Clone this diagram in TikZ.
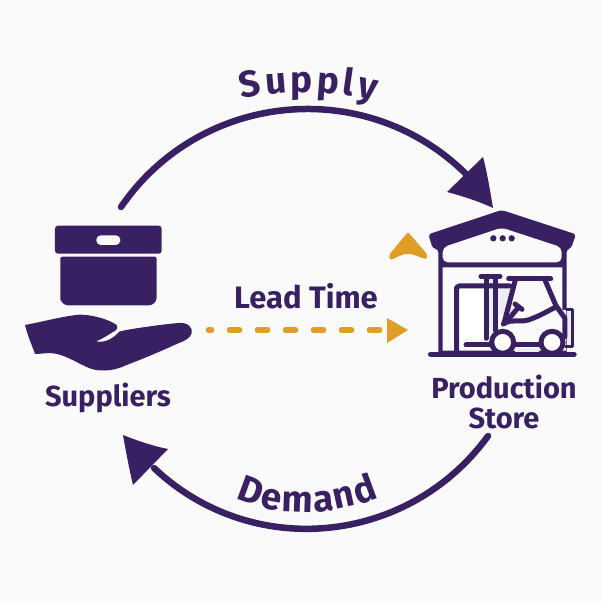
\documentclass[tikz,border=0pt]{standalone}
\usepackage{fontspec}
\setmainfont{Fira Sans}
\usetikzlibrary{decorations.text}
\definecolor{pur}{HTML}{382063}
\definecolor{org}{HTML}{E09E27}
\definecolor{bgc}{HTML}{FAFAFB}
\definecolor{lite}{HTML}{ECEEF6}
\tikzset{
  flow/.style={draw=pur,line width=6.5pt,line cap=round},
  label/.style={text=pur,font=\bfseries\fontsize{29}{30}\selectfont,align=center,inner sep=0pt},
  zoomA/.style={shift={(400,190)},x=0.3333pt,y=-0.3333pt},
  zoomB/.style={shift={(10,210)},x=0.3333pt,y=-0.3333pt},
  dk/.style={draw=pur,line width=5pt,line cap=round,line join=round},
}
\begin{document}
\begin{tikzpicture}[x=1pt,y=-1pt]
\useasboundingbox (0,0) rectangle (601,601);
\fill[bgc] (0,0) rectangle (601,601);
% named ends
\coordinate (supA) at (121,207);
\coordinate (supB) at (467,175);
\coordinate (demA) at (488,436);
\coordinate (demB) at (154,468);
\coordinate (leadA) at (208.5,330);
\coordinate (leadB) at (388,330);
% supply
\draw[flow] (supA) .. controls (200.9,90.7) and (367.2,75.2) .. (supB);
\fill[pur] (493,208) .. controls (490,190) and (487,172) .. (483,157) -- (447,192) .. controls (462,196) and (478,201) .. cycle;
% demand
\draw[flow] (demA) .. controls (408.4,545.2) and (252.3,560.9) .. (demB);
\fill[pur] (123,435) .. controls (138,441) and (153,446) .. (168,449) -- (133,485) .. controls (129,468) and (126,452) .. cycle;
% lead time
\draw[org,line width=5.5pt,line cap=round,dash pattern=on 10pt off 18pt,dash phase=7pt] (leadA) -- (leadB);
\fill[org] (408,330) -- (387,318) -- (387,343) -- cycle;
% orange roof mark
\fill[org,rounded corners=1.5pt] (408,232) -- (427,254) -- (427,259) .. controls (420,258) and (414,254) .. (408,254) .. controls (402,254) and (396,258) .. (390,260) -- (389,255) -- cycle;
% box and hand
\begin{scope}[zoomB]
\fill[pur,rounded corners=3pt] (135,47) rectangle (455,131);
\fill[bgc,rounded corners=4.5pt] (259,76) rectangle (331,105);
\fill[pur,rounded corners=2pt] (151,140) -- (440,140) -- (440,250) [rounded corners=8pt] -- (440,286) -- (151,286) -- (151,250) [rounded corners=2pt] -- cycle;
\fill[pur] (45,345) .. controls (100,335) and (160,318) .. (210,314) .. controls (250,314) and (300,330) .. (320,345) .. controls (325,355) and (320,362) .. (305,368) .. controls (295,375) and (280,385) .. (258,394) .. controls (285,400) and (310,385) .. (328,365) .. controls (340,360) and (440,345) .. (505,339) .. controls (535,336) and (550,355) .. (545,370) .. controls (540,385) and (525,392) .. (505,400) .. controls (450,425) and (390,450) .. (350,465) .. controls (320,480) and (280,487) .. (245,477) .. controls (210,465) and (170,435) .. (130,430) .. controls (110,428) and (90,432) .. (75,432) .. controls (70,415) and (55,385) .. (45,345) -- cycle;
\end{scope}
% warehouse
\begin{scope}[zoomA]
\fill[pur,rounded corners=3pt] (85,133) -- (305,60) -- (528,133) -- (513,175) -- (500,178) -- (500,495) -- (115,495) -- (115,178) -- (98,175) -- cycle;
\fill[bgc,rounded corners=5pt] (128,172) -- (305,113) -- (485,172) -- (485,217) -- (128,217) -- cycle;
\fill[bgc] (128,232) -- (487,232) -- (487,360) -- (498,360) -- (498,482) -- (128,482) -- cycle;
\fill[pur] (280,145) circle[radius=9.5] (308,145) circle[radius=9.5] (335,145) circle[radius=9.5];
\draw[dk,line width=5.5pt] (92,493) -- (522,493);
% stacked load
\fill[lite] (278,288) rectangle (335,375);
\fill[lite] (265,265) rectangle (280,440);
\fill[white] (178,295) rectangle (250,470);
\fill[lite] (345,475) rectangle (418,486);
\fill[lite] (500,365) rectangle (512,465);
\draw[dk] (170,487) -- (170,292) -- (178,288) -- (330,288);
\draw[dk] (258,262) -- (258,445);
\draw[dk] (285,262) -- (285,420);
\draw[dk] (243,259) -- (300,259);
\draw[dk] (198,465) -- (285,465);
% cab
\draw[dk] (326,267) -- (452,267);
\draw[dk] (346,270) -- (312,400);
\draw[dk] (435,270) -- (470,352);
\draw[dk] (310,402) .. controls (335,385) and (355,398) .. (385,390) .. controls (420,378) and (445,362) .. (470,350) -- (495,385) -- (495,440);
\draw[dk] (355,352) -- (328,385);
\draw[dk] (345,342) -- (366,358);
\draw[dk] (345,465) -- (418,465);
\draw[dk,line width=3pt] (500,360) -- (517,360) -- (517,470) -- (497,470);
\draw[pur,line width=5pt,fill=white] (308,457) circle[radius=33];
\draw[pur,line width=5pt,fill=white] (456,457) circle[radius=33];
\end{scope}
% labels
\path[decorate,decoration={text along path,text align=fit to path,text={|\color{pur}\bfseries\fontsize{37}{40}\selectfont|Supply}}] (242,99) .. controls (280,90) and (330,90) .. (375,101);
\path[decorate,decoration={text along path,text align=fit to path,text={|\color{pur}\bfseries\fontsize{37}{40}\selectfont|Demand}}] (236,498) .. controls (275,517) and (335,517) .. (379,497);
\node[label,font=\bfseries\fontsize{31}{32}\selectfont] (leadtime) at (306,296) {Lead Time};
\node[label] (suppliers) at (108,398) {Suppliers};
\node[label] (store) at (504,402) {Production\\Store};
\end{tikzpicture}
\end{document}
